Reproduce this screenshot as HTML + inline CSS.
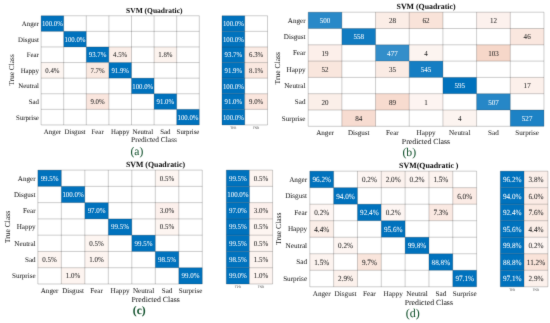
<!DOCTYPE html>
<html lang="en"><head><meta charset="utf-8"><title>SVM (Quadratic) confusion matrices</title>
<style>
html,body{margin:0;padding:0;background:#fff;}
body{width:550px;height:323px;overflow:hidden;}
svg{display:block;text-rendering:geometricPrecision;font-family:"Liberation Serif","DejaVu Serif",serif;}
</style></head><body>
<svg width="550" height="323" viewBox="0 0 550 323">
<filter id="soft" filterUnits="userSpaceOnUse" x="0" y="0" width="550" height="323" color-interpolation-filters="sRGB"><feConvolveMatrix order="3" kernelMatrix="0.01 0.07 0.01 0.07 0.68 0.07 0.01 0.07 0.01" edgeMode="duplicate" preserveAlpha="true"/></filter>
<g filter="url(#soft)">
<rect width="550" height="323" fill="#fff"/>
<rect x="41.10" y="15.75" width="158.20" height="109.20" fill="#fff"/>
<rect x="41.10" y="15.75" width="22.60" height="15.60" fill="#0072bd"/>
<text transform="translate(52.40 26.27) scale(1 1.09)" font-size="6.8" text-anchor="middle" fill="#fff" stroke="#fff" stroke-width="0.027">100.0%</text>
<rect x="63.70" y="31.35" width="22.60" height="15.60" fill="#0072bd"/>
<text transform="translate(75.00 41.87) scale(1 1.09)" font-size="6.8" text-anchor="middle" fill="#fff" stroke="#fff" stroke-width="0.027">100.0%</text>
<rect x="86.30" y="46.95" width="22.60" height="15.60" fill="#0072bd"/>
<text transform="translate(97.60 57.47) scale(1 1.09)" font-size="6.8" text-anchor="middle" fill="#fff" stroke="#fff" stroke-width="0.027">93.7%</text>
<rect x="108.90" y="46.95" width="22.60" height="15.60" fill="#fbeee8"/>
<text transform="translate(120.20 57.47) scale(1 1.09)" font-size="6.8" text-anchor="middle" fill="#202020" stroke="#202020" stroke-width="0.027">4.5%</text>
<rect x="154.10" y="46.95" width="22.60" height="15.60" fill="#fcf3ee"/>
<text transform="translate(165.40 57.47) scale(1 1.09)" font-size="6.8" text-anchor="middle" fill="#202020" stroke="#202020" stroke-width="0.027">1.8%</text>
<rect x="41.10" y="62.55" width="22.60" height="15.60" fill="#fdf5f1"/>
<text transform="translate(52.40 73.07) scale(1 1.09)" font-size="6.8" text-anchor="middle" fill="#202020" stroke="#202020" stroke-width="0.027">0.4%</text>
<rect x="86.30" y="62.55" width="22.60" height="15.60" fill="#fae9e1"/>
<text transform="translate(97.60 73.07) scale(1 1.09)" font-size="6.8" text-anchor="middle" fill="#202020" stroke="#202020" stroke-width="0.027">7.7%</text>
<rect x="108.90" y="62.55" width="22.60" height="15.60" fill="#0072bd"/>
<text transform="translate(120.20 73.07) scale(1 1.09)" font-size="6.8" text-anchor="middle" fill="#fff" stroke="#fff" stroke-width="0.027">91.9%</text>
<rect x="131.50" y="78.15" width="22.60" height="15.60" fill="#0072bd"/>
<text transform="translate(142.80 88.67) scale(1 1.09)" font-size="6.8" text-anchor="middle" fill="#fff" stroke="#fff" stroke-width="0.027">100.0%</text>
<rect x="86.30" y="93.75" width="22.60" height="15.60" fill="#fae6de"/>
<text transform="translate(97.60 104.27) scale(1 1.09)" font-size="6.8" text-anchor="middle" fill="#202020" stroke="#202020" stroke-width="0.027">9.0%</text>
<rect x="154.10" y="93.75" width="22.60" height="15.60" fill="#0072bd"/>
<text transform="translate(165.40 104.27) scale(1 1.09)" font-size="6.8" text-anchor="middle" fill="#fff" stroke="#fff" stroke-width="0.027">91.0%</text>
<rect x="176.70" y="109.35" width="22.60" height="15.60" fill="#0072bd"/>
<text transform="translate(188.00 119.87) scale(1 1.09)" font-size="6.8" text-anchor="middle" fill="#fff" stroke="#fff" stroke-width="0.027">100.0%</text>
<path d="M41.10 15.75V124.95M41.10 15.75H199.30M63.70 15.75V124.95M41.10 31.35H199.30M86.30 15.75V124.95M41.10 46.95H199.30M108.90 15.75V124.95M41.10 62.55H199.30M131.50 15.75V124.95M41.10 78.15H199.30M154.10 15.75V124.95M41.10 93.75H199.30M176.70 15.75V124.95M41.10 109.35H199.30M199.30 15.75V124.95M41.10 124.95H199.30" stroke="#000" stroke-opacity="0.36" stroke-width="0.55" fill="none"/>
<text x="38.90" y="25.91" font-size="6.85" text-anchor="end" fill="#202020" stroke="#202020" stroke-width="0.027">Anger</text>
<text x="52.40" y="133.60" font-size="6.85" text-anchor="middle" fill="#202020" stroke="#202020" stroke-width="0.027">Anger</text>
<text x="38.90" y="41.51" font-size="6.85" text-anchor="end" fill="#202020" stroke="#202020" stroke-width="0.027">Disgust</text>
<text x="75.00" y="133.60" font-size="6.85" text-anchor="middle" fill="#202020" stroke="#202020" stroke-width="0.027">Disgust</text>
<text x="38.90" y="57.11" font-size="6.85" text-anchor="end" fill="#202020" stroke="#202020" stroke-width="0.027">Fear</text>
<text x="97.60" y="133.60" font-size="6.85" text-anchor="middle" fill="#202020" stroke="#202020" stroke-width="0.027">Fear</text>
<text x="38.90" y="72.71" font-size="6.85" text-anchor="end" fill="#202020" stroke="#202020" stroke-width="0.027">Happy</text>
<text x="120.20" y="133.60" font-size="6.85" text-anchor="middle" fill="#202020" stroke="#202020" stroke-width="0.027">Happy</text>
<text x="38.90" y="88.31" font-size="6.85" text-anchor="end" fill="#202020" stroke="#202020" stroke-width="0.027">Neutral</text>
<text x="142.80" y="133.60" font-size="6.85" text-anchor="middle" fill="#202020" stroke="#202020" stroke-width="0.027">Neutral</text>
<text x="38.90" y="103.91" font-size="6.85" text-anchor="end" fill="#202020" stroke="#202020" stroke-width="0.027">Sad</text>
<text x="165.40" y="133.60" font-size="6.85" text-anchor="middle" fill="#202020" stroke="#202020" stroke-width="0.027">Sad</text>
<text x="38.90" y="119.51" font-size="6.85" text-anchor="end" fill="#202020" stroke="#202020" stroke-width="0.027">Surprise</text>
<text x="188.00" y="133.60" font-size="6.85" text-anchor="middle" fill="#202020" stroke="#202020" stroke-width="0.027">Surprise</text>
<text x="154.30" y="12.70" font-size="7.5" text-anchor="middle" fill="#111" stroke="#111" stroke-width="0.030" font-weight="bold">SVM (Quadratic)</text>
<text x="154.00" y="142.00" font-size="7.4" text-anchor="middle" fill="#202020" stroke="#202020" stroke-width="0.030">Predicted Class</text>
<text x="130.50" y="154.60" font-size="11.5" text-anchor="start" fill="#15532f" stroke="#15532f" stroke-width="0.046">(a)</text>
<text transform="translate(13.60 70.00) rotate(-90)" font-size="7.4" text-anchor="middle" fill="#202020" stroke="#202020" stroke-width="0.030">True Class</text>
<rect x="222.00" y="15.75" width="45.50" height="109.20" fill="#fff"/>
<rect x="222.00" y="15.75" width="22.75" height="15.60" fill="#0072bd"/>
<text transform="translate(233.38 26.27) scale(1 1.09)" font-size="6.8" text-anchor="middle" fill="#fff" stroke="#fff" stroke-width="0.027">100.0%</text>
<rect x="222.00" y="31.35" width="22.75" height="15.60" fill="#0072bd"/>
<text transform="translate(233.38 41.87) scale(1 1.09)" font-size="6.8" text-anchor="middle" fill="#fff" stroke="#fff" stroke-width="0.027">100.0%</text>
<rect x="222.00" y="46.95" width="22.75" height="15.60" fill="#0072bd"/>
<text transform="translate(233.38 57.47) scale(1 1.09)" font-size="6.8" text-anchor="middle" fill="#fff" stroke="#fff" stroke-width="0.027">93.7%</text>
<rect x="244.75" y="46.95" width="22.75" height="15.60" fill="#fbebe4"/>
<text transform="translate(256.12 57.47) scale(1 1.09)" font-size="6.8" text-anchor="middle" fill="#202020" stroke="#202020" stroke-width="0.027">6.3%</text>
<rect x="222.00" y="62.55" width="22.75" height="15.60" fill="#0072bd"/>
<text transform="translate(233.38 73.07) scale(1 1.09)" font-size="6.8" text-anchor="middle" fill="#fff" stroke="#fff" stroke-width="0.027">91.9%</text>
<rect x="244.75" y="62.55" width="22.75" height="15.60" fill="#fae8e0"/>
<text transform="translate(256.12 73.07) scale(1 1.09)" font-size="6.8" text-anchor="middle" fill="#202020" stroke="#202020" stroke-width="0.027">8.1%</text>
<rect x="222.00" y="78.15" width="22.75" height="15.60" fill="#0072bd"/>
<text transform="translate(233.38 88.67) scale(1 1.09)" font-size="6.8" text-anchor="middle" fill="#fff" stroke="#fff" stroke-width="0.027">100.0%</text>
<rect x="222.00" y="93.75" width="22.75" height="15.60" fill="#0072bd"/>
<text transform="translate(233.38 104.27) scale(1 1.09)" font-size="6.8" text-anchor="middle" fill="#fff" stroke="#fff" stroke-width="0.027">91.0%</text>
<rect x="244.75" y="93.75" width="22.75" height="15.60" fill="#fae6de"/>
<text transform="translate(256.12 104.27) scale(1 1.09)" font-size="6.8" text-anchor="middle" fill="#202020" stroke="#202020" stroke-width="0.027">9.0%</text>
<rect x="222.00" y="109.35" width="22.75" height="15.60" fill="#0072bd"/>
<text transform="translate(233.38 119.87) scale(1 1.09)" font-size="6.8" text-anchor="middle" fill="#fff" stroke="#fff" stroke-width="0.027">100.0%</text>
<path d="M222.00 15.75V124.95M244.75 15.75V124.95M267.50 15.75V124.95M222.00 15.75H267.50M222.00 31.35H267.50M222.00 46.95H267.50M222.00 62.55H267.50M222.00 78.15H267.50M222.00 93.75H267.50M222.00 109.35H267.50M222.00 124.95H267.50" stroke="#000" stroke-opacity="0.36" stroke-width="0.55" fill="none"/>
<text x="233.38" y="129.15" font-size="3.3" text-anchor="middle" fill="#444" stroke="#444" stroke-width="0.013">TPR</text>
<text x="256.12" y="129.15" font-size="3.3" text-anchor="middle" fill="#444" stroke="#444" stroke-width="0.013">FNR</text>
<rect x="308.20" y="12.20" width="235.76" height="114.10" fill="#fff"/>
<rect x="308.20" y="12.20" width="33.68" height="16.30" fill="#2989c8"/>
<text transform="translate(325.04 23.17) scale(1 1.09)" font-size="7.05" text-anchor="middle" fill="#fff" stroke="#fff" stroke-width="0.028">500</text>
<rect x="375.56" y="12.20" width="33.68" height="16.30" fill="#fbede6"/>
<text transform="translate(392.40 23.17) scale(1 1.09)" font-size="7.05" text-anchor="middle" fill="#202020" stroke="#202020" stroke-width="0.028">28</text>
<rect x="409.24" y="12.20" width="33.68" height="16.30" fill="#f9e3d9"/>
<text transform="translate(426.08 23.17) scale(1 1.09)" font-size="7.05" text-anchor="middle" fill="#202020" stroke="#202020" stroke-width="0.028">62</text>
<rect x="476.60" y="12.20" width="33.68" height="16.30" fill="#fcf1ed"/>
<text transform="translate(493.44 23.17) scale(1 1.09)" font-size="7.05" text-anchor="middle" fill="#202020" stroke="#202020" stroke-width="0.028">12</text>
<rect x="341.88" y="28.50" width="33.68" height="16.30" fill="#107bc1"/>
<text transform="translate(358.72 39.47) scale(1 1.09)" font-size="7.05" text-anchor="middle" fill="#fff" stroke="#fff" stroke-width="0.028">558</text>
<rect x="510.28" y="28.50" width="33.68" height="16.30" fill="#fae7df"/>
<text transform="translate(527.12 39.47) scale(1 1.09)" font-size="7.05" text-anchor="middle" fill="#202020" stroke="#202020" stroke-width="0.028">46</text>
<rect x="308.20" y="44.80" width="33.68" height="16.30" fill="#fcefea"/>
<text transform="translate(325.04 55.77) scale(1 1.09)" font-size="7.05" text-anchor="middle" fill="#202020" stroke="#202020" stroke-width="0.028">19</text>
<rect x="375.56" y="44.80" width="33.68" height="16.30" fill="#338eca"/>
<text transform="translate(392.40 55.77) scale(1 1.09)" font-size="7.05" text-anchor="middle" fill="#fff" stroke="#fff" stroke-width="0.028">477</text>
<rect x="409.24" y="44.80" width="33.68" height="16.30" fill="#fcf4f0"/>
<text transform="translate(426.08 55.77) scale(1 1.09)" font-size="7.05" text-anchor="middle" fill="#202020" stroke="#202020" stroke-width="0.028">4</text>
<rect x="476.60" y="44.80" width="33.68" height="16.30" fill="#f6d7c9"/>
<text transform="translate(493.44 55.77) scale(1 1.09)" font-size="7.05" text-anchor="middle" fill="#202020" stroke="#202020" stroke-width="0.028">103</text>
<rect x="308.20" y="61.10" width="33.68" height="16.30" fill="#f9e6dd"/>
<text transform="translate(325.04 72.07) scale(1 1.09)" font-size="7.05" text-anchor="middle" fill="#202020" stroke="#202020" stroke-width="0.028">52</text>
<rect x="375.56" y="61.10" width="33.68" height="16.30" fill="#faebe4"/>
<text transform="translate(392.40 72.07) scale(1 1.09)" font-size="7.05" text-anchor="middle" fill="#202020" stroke="#202020" stroke-width="0.028">35</text>
<rect x="409.24" y="61.10" width="33.68" height="16.30" fill="#157ec3"/>
<text transform="translate(426.08 72.07) scale(1 1.09)" font-size="7.05" text-anchor="middle" fill="#fff" stroke="#fff" stroke-width="0.028">545</text>
<rect x="442.92" y="77.40" width="33.68" height="16.30" fill="#0072bd"/>
<text transform="translate(459.76 88.37) scale(1 1.09)" font-size="7.05" text-anchor="middle" fill="#fff" stroke="#fff" stroke-width="0.028">595</text>
<rect x="510.28" y="77.40" width="33.68" height="16.30" fill="#fcf0eb"/>
<text transform="translate(527.12 88.37) scale(1 1.09)" font-size="7.05" text-anchor="middle" fill="#202020" stroke="#202020" stroke-width="0.028">17</text>
<rect x="308.20" y="93.70" width="33.68" height="16.30" fill="#fbefe9"/>
<text transform="translate(325.04 104.67) scale(1 1.09)" font-size="7.05" text-anchor="middle" fill="#202020" stroke="#202020" stroke-width="0.028">20</text>
<rect x="375.56" y="93.70" width="33.68" height="16.30" fill="#f7dbcf"/>
<text transform="translate(392.40 104.67) scale(1 1.09)" font-size="7.05" text-anchor="middle" fill="#202020" stroke="#202020" stroke-width="0.028">89</text>
<rect x="409.24" y="93.70" width="33.68" height="16.30" fill="#fdf4f1"/>
<text transform="translate(426.08 104.67) scale(1 1.09)" font-size="7.05" text-anchor="middle" fill="#202020" stroke="#202020" stroke-width="0.028">1</text>
<rect x="476.60" y="93.70" width="33.68" height="16.30" fill="#2687c7"/>
<text transform="translate(493.44 104.67) scale(1 1.09)" font-size="7.05" text-anchor="middle" fill="#fff" stroke="#fff" stroke-width="0.028">507</text>
<rect x="341.88" y="110.00" width="33.68" height="16.30" fill="#f7dcd1"/>
<text transform="translate(358.72 120.97) scale(1 1.09)" font-size="7.05" text-anchor="middle" fill="#202020" stroke="#202020" stroke-width="0.028">84</text>
<rect x="442.92" y="110.00" width="33.68" height="16.30" fill="#fcf4f0"/>
<text transform="translate(459.76 120.97) scale(1 1.09)" font-size="7.05" text-anchor="middle" fill="#202020" stroke="#202020" stroke-width="0.028">4</text>
<rect x="510.28" y="110.00" width="33.68" height="16.30" fill="#1d82c5"/>
<text transform="translate(527.12 120.97) scale(1 1.09)" font-size="7.05" text-anchor="middle" fill="#fff" stroke="#fff" stroke-width="0.028">527</text>
<path d="M308.20 12.20V126.30M308.20 12.20H543.96M341.88 12.20V126.30M308.20 28.50H543.96M375.56 12.20V126.30M308.20 44.80H543.96M409.24 12.20V126.30M308.20 61.10H543.96M442.92 12.20V126.30M308.20 77.40H543.96M476.60 12.20V126.30M308.20 93.70H543.96M510.28 12.20V126.30M308.20 110.00H543.96M543.96 12.20V126.30M308.20 126.30H543.96" stroke="#000" stroke-opacity="0.36" stroke-width="0.55" fill="none"/>
<text x="305.50" y="22.80" font-size="7.1" text-anchor="end" fill="#202020" stroke="#202020" stroke-width="0.028">Anger</text>
<text x="325.04" y="135.10" font-size="7.1" text-anchor="middle" fill="#202020" stroke="#202020" stroke-width="0.028">Anger</text>
<text x="305.50" y="39.10" font-size="7.1" text-anchor="end" fill="#202020" stroke="#202020" stroke-width="0.028">Disgust</text>
<text x="358.72" y="135.10" font-size="7.1" text-anchor="middle" fill="#202020" stroke="#202020" stroke-width="0.028">Disgust</text>
<text x="305.50" y="55.40" font-size="7.1" text-anchor="end" fill="#202020" stroke="#202020" stroke-width="0.028">Fear</text>
<text x="392.40" y="135.10" font-size="7.1" text-anchor="middle" fill="#202020" stroke="#202020" stroke-width="0.028">Fear</text>
<text x="305.50" y="71.70" font-size="7.1" text-anchor="end" fill="#202020" stroke="#202020" stroke-width="0.028">Happy</text>
<text x="426.08" y="135.10" font-size="7.1" text-anchor="middle" fill="#202020" stroke="#202020" stroke-width="0.028">Happy</text>
<text x="305.50" y="88.00" font-size="7.1" text-anchor="end" fill="#202020" stroke="#202020" stroke-width="0.028">Neutral</text>
<text x="459.76" y="135.10" font-size="7.1" text-anchor="middle" fill="#202020" stroke="#202020" stroke-width="0.028">Neutral</text>
<text x="305.50" y="104.30" font-size="7.1" text-anchor="end" fill="#202020" stroke="#202020" stroke-width="0.028">Sad</text>
<text x="493.44" y="135.10" font-size="7.1" text-anchor="middle" fill="#202020" stroke="#202020" stroke-width="0.028">Sad</text>
<text x="305.50" y="120.60" font-size="7.1" text-anchor="end" fill="#202020" stroke="#202020" stroke-width="0.028">Surprise</text>
<text x="527.12" y="135.10" font-size="7.1" text-anchor="middle" fill="#202020" stroke="#202020" stroke-width="0.028">Surprise</text>
<text x="426.10" y="8.70" font-size="7.85" text-anchor="middle" fill="#111" stroke="#111" stroke-width="0.031" font-weight="bold">SVM (Quadratic)</text>
<text x="426.00" y="143.80" font-size="7.8" text-anchor="middle" fill="#202020" stroke="#202020" stroke-width="0.031">Predicted Class</text>
<text x="402.40" y="156.20" font-size="11.75" text-anchor="start" fill="#15532f" stroke="#15532f" stroke-width="0.047">(b)</text>
<text transform="translate(280.00 68.20) rotate(-90)" font-size="7.6" text-anchor="middle" fill="#202020" stroke="#202020" stroke-width="0.030">True Class</text>
<rect x="37.85" y="170.10" width="164.43" height="113.89" fill="#fff"/>
<rect x="37.85" y="170.10" width="23.49" height="16.27" fill="#0072bd"/>
<text transform="translate(49.59 180.56) scale(1 1.09)" font-size="6.95" text-anchor="middle" fill="#fff" stroke="#fff" stroke-width="0.028">99.5%</text>
<rect x="155.30" y="170.10" width="23.49" height="16.27" fill="#fdf5f1"/>
<text transform="translate(167.04 180.56) scale(1 1.09)" font-size="6.95" text-anchor="middle" fill="#202020" stroke="#202020" stroke-width="0.028">0.5%</text>
<rect x="61.34" y="186.37" width="23.49" height="16.27" fill="#0072bd"/>
<text transform="translate(73.09 196.84) scale(1 1.09)" font-size="6.95" text-anchor="middle" fill="#fff" stroke="#fff" stroke-width="0.028">100.0%</text>
<rect x="84.83" y="202.64" width="23.49" height="16.27" fill="#0072bd"/>
<text transform="translate(96.58 213.10) scale(1 1.09)" font-size="6.95" text-anchor="middle" fill="#fff" stroke="#fff" stroke-width="0.028">97.0%</text>
<rect x="155.30" y="202.64" width="23.49" height="16.27" fill="#fcf0ec"/>
<text transform="translate(167.04 213.10) scale(1 1.09)" font-size="6.95" text-anchor="middle" fill="#202020" stroke="#202020" stroke-width="0.028">3.0%</text>
<rect x="108.32" y="218.91" width="23.49" height="16.27" fill="#0072bd"/>
<text transform="translate(120.06 229.38) scale(1 1.09)" font-size="6.95" text-anchor="middle" fill="#fff" stroke="#fff" stroke-width="0.028">99.5%</text>
<rect x="155.30" y="218.91" width="23.49" height="16.27" fill="#fdf5f1"/>
<text transform="translate(167.04 229.38) scale(1 1.09)" font-size="6.95" text-anchor="middle" fill="#202020" stroke="#202020" stroke-width="0.028">0.5%</text>
<rect x="84.83" y="235.18" width="23.49" height="16.27" fill="#fdf5f1"/>
<text transform="translate(96.58 245.65) scale(1 1.09)" font-size="6.95" text-anchor="middle" fill="#202020" stroke="#202020" stroke-width="0.028">0.5%</text>
<rect x="131.81" y="235.18" width="23.49" height="16.27" fill="#0072bd"/>
<text transform="translate(143.56 245.65) scale(1 1.09)" font-size="6.95" text-anchor="middle" fill="#fff" stroke="#fff" stroke-width="0.028">99.5%</text>
<rect x="37.85" y="251.45" width="23.49" height="16.27" fill="#fdf5f1"/>
<text transform="translate(49.59 261.91) scale(1 1.09)" font-size="6.95" text-anchor="middle" fill="#202020" stroke="#202020" stroke-width="0.028">0.5%</text>
<rect x="84.83" y="251.45" width="23.49" height="16.27" fill="#fdf4f0"/>
<text transform="translate(96.58 261.91) scale(1 1.09)" font-size="6.95" text-anchor="middle" fill="#202020" stroke="#202020" stroke-width="0.028">1.0%</text>
<rect x="155.30" y="251.45" width="23.49" height="16.27" fill="#0072bd"/>
<text transform="translate(167.04 261.91) scale(1 1.09)" font-size="6.95" text-anchor="middle" fill="#fff" stroke="#fff" stroke-width="0.028">98.5%</text>
<rect x="61.34" y="267.72" width="23.49" height="16.27" fill="#fdf4f0"/>
<text transform="translate(73.09 278.19) scale(1 1.09)" font-size="6.95" text-anchor="middle" fill="#202020" stroke="#202020" stroke-width="0.028">1.0%</text>
<rect x="178.79" y="267.72" width="23.49" height="16.27" fill="#0072bd"/>
<text transform="translate(190.53 278.19) scale(1 1.09)" font-size="6.95" text-anchor="middle" fill="#fff" stroke="#fff" stroke-width="0.028">99.0%</text>
<path d="M37.85 170.10V283.99M37.85 170.10H202.28M61.34 170.10V283.99M37.85 186.37H202.28M84.83 170.10V283.99M37.85 202.64H202.28M108.32 170.10V283.99M37.85 218.91H202.28M131.81 170.10V283.99M37.85 235.18H202.28M155.30 170.10V283.99M37.85 251.45H202.28M178.79 170.10V283.99M37.85 267.72H202.28M202.28 170.10V283.99M37.85 283.99H202.28" stroke="#000" stroke-opacity="0.36" stroke-width="0.55" fill="none"/>
<text x="35.60" y="180.68" font-size="7.1" text-anchor="end" fill="#202020" stroke="#202020" stroke-width="0.028">Anger</text>
<text x="49.59" y="292.70" font-size="7.1" text-anchor="middle" fill="#202020" stroke="#202020" stroke-width="0.028">Anger</text>
<text x="35.60" y="196.95" font-size="7.1" text-anchor="end" fill="#202020" stroke="#202020" stroke-width="0.028">Disgust</text>
<text x="73.09" y="292.70" font-size="7.1" text-anchor="middle" fill="#202020" stroke="#202020" stroke-width="0.028">Disgust</text>
<text x="35.60" y="213.22" font-size="7.1" text-anchor="end" fill="#202020" stroke="#202020" stroke-width="0.028">Fear</text>
<text x="96.58" y="292.70" font-size="7.1" text-anchor="middle" fill="#202020" stroke="#202020" stroke-width="0.028">Fear</text>
<text x="35.60" y="229.49" font-size="7.1" text-anchor="end" fill="#202020" stroke="#202020" stroke-width="0.028">Happy</text>
<text x="120.06" y="292.70" font-size="7.1" text-anchor="middle" fill="#202020" stroke="#202020" stroke-width="0.028">Happy</text>
<text x="35.60" y="245.76" font-size="7.1" text-anchor="end" fill="#202020" stroke="#202020" stroke-width="0.028">Neutral</text>
<text x="143.56" y="292.70" font-size="7.1" text-anchor="middle" fill="#202020" stroke="#202020" stroke-width="0.028">Neutral</text>
<text x="35.60" y="262.03" font-size="7.1" text-anchor="end" fill="#202020" stroke="#202020" stroke-width="0.028">Sad</text>
<text x="167.04" y="292.70" font-size="7.1" text-anchor="middle" fill="#202020" stroke="#202020" stroke-width="0.028">Sad</text>
<text x="35.60" y="278.30" font-size="7.1" text-anchor="end" fill="#202020" stroke="#202020" stroke-width="0.028">Surprise</text>
<text x="190.53" y="292.70" font-size="7.1" text-anchor="middle" fill="#202020" stroke="#202020" stroke-width="0.028">Surprise</text>
<text x="155.50" y="167.00" font-size="7.85" text-anchor="middle" fill="#111" stroke="#111" stroke-width="0.031" font-weight="bold">SVM (Quadratic)</text>
<text x="155.60" y="301.50" font-size="7.8" text-anchor="middle" fill="#202020" stroke="#202020" stroke-width="0.031">Predicted Class</text>
<text x="132.80" y="314.20" font-size="11.6" text-anchor="start" fill="#15532f" stroke="#15532f" stroke-width="0.046" font-weight="bold">(c)</text>
<text transform="translate(9.90 227.00) rotate(-90)" font-size="7.6" text-anchor="middle" fill="#202020" stroke="#202020" stroke-width="0.030">True Class</text>
<rect x="226.30" y="170.10" width="46.30" height="113.89" fill="#fff"/>
<rect x="226.30" y="170.10" width="23.15" height="16.27" fill="#0072bd"/>
<text transform="translate(237.88 180.56) scale(1 1.09)" font-size="6.95" text-anchor="middle" fill="#fff" stroke="#fff" stroke-width="0.028">99.5%</text>
<rect x="249.45" y="170.10" width="23.15" height="16.27" fill="#fdf5f1"/>
<text transform="translate(261.02 180.56) scale(1 1.09)" font-size="6.95" text-anchor="middle" fill="#202020" stroke="#202020" stroke-width="0.028">0.5%</text>
<rect x="226.30" y="186.37" width="23.15" height="16.27" fill="#0072bd"/>
<text transform="translate(237.88 196.84) scale(1 1.09)" font-size="6.95" text-anchor="middle" fill="#fff" stroke="#fff" stroke-width="0.028">100.0%</text>
<rect x="226.30" y="202.64" width="23.15" height="16.27" fill="#0072bd"/>
<text transform="translate(237.88 213.10) scale(1 1.09)" font-size="6.95" text-anchor="middle" fill="#fff" stroke="#fff" stroke-width="0.028">97.0%</text>
<rect x="249.45" y="202.64" width="23.15" height="16.27" fill="#fcf0ec"/>
<text transform="translate(261.02 213.10) scale(1 1.09)" font-size="6.95" text-anchor="middle" fill="#202020" stroke="#202020" stroke-width="0.028">3.0%</text>
<rect x="226.30" y="218.91" width="23.15" height="16.27" fill="#0072bd"/>
<text transform="translate(237.88 229.38) scale(1 1.09)" font-size="6.95" text-anchor="middle" fill="#fff" stroke="#fff" stroke-width="0.028">99.5%</text>
<rect x="249.45" y="218.91" width="23.15" height="16.27" fill="#fdf5f1"/>
<text transform="translate(261.02 229.38) scale(1 1.09)" font-size="6.95" text-anchor="middle" fill="#202020" stroke="#202020" stroke-width="0.028">0.5%</text>
<rect x="226.30" y="235.18" width="23.15" height="16.27" fill="#0072bd"/>
<text transform="translate(237.88 245.65) scale(1 1.09)" font-size="6.95" text-anchor="middle" fill="#fff" stroke="#fff" stroke-width="0.028">99.5%</text>
<rect x="249.45" y="235.18" width="23.15" height="16.27" fill="#fdf5f1"/>
<text transform="translate(261.02 245.65) scale(1 1.09)" font-size="6.95" text-anchor="middle" fill="#202020" stroke="#202020" stroke-width="0.028">0.5%</text>
<rect x="226.30" y="251.45" width="23.15" height="16.27" fill="#0072bd"/>
<text transform="translate(237.88 261.91) scale(1 1.09)" font-size="6.95" text-anchor="middle" fill="#fff" stroke="#fff" stroke-width="0.028">98.5%</text>
<rect x="249.45" y="251.45" width="23.15" height="16.27" fill="#fcf3ef"/>
<text transform="translate(261.02 261.91) scale(1 1.09)" font-size="6.95" text-anchor="middle" fill="#202020" stroke="#202020" stroke-width="0.028">1.5%</text>
<rect x="226.30" y="267.72" width="23.15" height="16.27" fill="#0072bd"/>
<text transform="translate(237.88 278.19) scale(1 1.09)" font-size="6.95" text-anchor="middle" fill="#fff" stroke="#fff" stroke-width="0.028">99.0%</text>
<rect x="249.45" y="267.72" width="23.15" height="16.27" fill="#fdf4f0"/>
<text transform="translate(261.02 278.19) scale(1 1.09)" font-size="6.95" text-anchor="middle" fill="#202020" stroke="#202020" stroke-width="0.028">1.0%</text>
<path d="M226.30 170.10V283.99M249.45 170.10V283.99M272.60 170.10V283.99M226.30 170.10H272.60M226.30 186.37H272.60M226.30 202.64H272.60M226.30 218.91H272.60M226.30 235.18H272.60M226.30 251.45H272.60M226.30 267.72H272.60M226.30 283.99H272.60" stroke="#000" stroke-opacity="0.36" stroke-width="0.55" fill="none"/>
<text x="237.88" y="288.19" font-size="3.3" text-anchor="middle" fill="#444" stroke="#444" stroke-width="0.013">TPR</text>
<text x="261.02" y="288.19" font-size="3.3" text-anchor="middle" fill="#444" stroke="#444" stroke-width="0.013">FNR</text>
<rect x="309.80" y="171.15" width="166.81" height="115.64" fill="#fff"/>
<rect x="309.80" y="171.15" width="23.83" height="16.52" fill="#0072bd"/>
<text transform="translate(321.72 182.29) scale(1 1.09)" font-size="7.2" text-anchor="middle" fill="#fff" stroke="#fff" stroke-width="0.029">96.2%</text>
<rect x="357.46" y="171.15" width="23.83" height="16.52" fill="#fdf5f2"/>
<text transform="translate(369.38 182.29) scale(1 1.09)" font-size="7.2" text-anchor="middle" fill="#202020" stroke="#202020" stroke-width="0.029">0.2%</text>
<rect x="381.29" y="171.15" width="23.83" height="16.52" fill="#fcf2ee"/>
<text transform="translate(393.21 182.29) scale(1 1.09)" font-size="7.2" text-anchor="middle" fill="#202020" stroke="#202020" stroke-width="0.029">2.0%</text>
<rect x="405.12" y="171.15" width="23.83" height="16.52" fill="#fdf5f2"/>
<text transform="translate(417.04 182.29) scale(1 1.09)" font-size="7.2" text-anchor="middle" fill="#202020" stroke="#202020" stroke-width="0.029">0.2%</text>
<rect x="428.95" y="171.15" width="23.83" height="16.52" fill="#fcf3ef"/>
<text transform="translate(440.87 182.29) scale(1 1.09)" font-size="7.2" text-anchor="middle" fill="#202020" stroke="#202020" stroke-width="0.029">1.5%</text>
<rect x="333.63" y="187.67" width="23.83" height="16.52" fill="#0072bd"/>
<text transform="translate(345.55 198.81) scale(1 1.09)" font-size="7.2" text-anchor="middle" fill="#fff" stroke="#fff" stroke-width="0.029">94.0%</text>
<rect x="452.78" y="187.67" width="23.83" height="16.52" fill="#fbebe5"/>
<text transform="translate(464.69 198.81) scale(1 1.09)" font-size="7.2" text-anchor="middle" fill="#202020" stroke="#202020" stroke-width="0.029">6.0%</text>
<rect x="309.80" y="204.19" width="23.83" height="16.52" fill="#fdf5f2"/>
<text transform="translate(321.72 215.33) scale(1 1.09)" font-size="7.2" text-anchor="middle" fill="#202020" stroke="#202020" stroke-width="0.029">0.2%</text>
<rect x="357.46" y="204.19" width="23.83" height="16.52" fill="#0072bd"/>
<text transform="translate(369.38 215.33) scale(1 1.09)" font-size="7.2" text-anchor="middle" fill="#fff" stroke="#fff" stroke-width="0.029">92.4%</text>
<rect x="381.29" y="204.19" width="23.83" height="16.52" fill="#fdf5f2"/>
<text transform="translate(393.21 215.33) scale(1 1.09)" font-size="7.2" text-anchor="middle" fill="#202020" stroke="#202020" stroke-width="0.029">0.2%</text>
<rect x="428.95" y="204.19" width="23.83" height="16.52" fill="#fae9e2"/>
<text transform="translate(440.87 215.33) scale(1 1.09)" font-size="7.2" text-anchor="middle" fill="#202020" stroke="#202020" stroke-width="0.029">7.3%</text>
<rect x="309.80" y="220.71" width="23.83" height="16.52" fill="#fbeee8"/>
<text transform="translate(321.72 231.85) scale(1 1.09)" font-size="7.2" text-anchor="middle" fill="#202020" stroke="#202020" stroke-width="0.029">4.4%</text>
<rect x="381.29" y="220.71" width="23.83" height="16.52" fill="#0072bd"/>
<text transform="translate(393.21 231.85) scale(1 1.09)" font-size="7.2" text-anchor="middle" fill="#fff" stroke="#fff" stroke-width="0.029">95.6%</text>
<rect x="333.63" y="237.23" width="23.83" height="16.52" fill="#fdf5f2"/>
<text transform="translate(345.55 248.37) scale(1 1.09)" font-size="7.2" text-anchor="middle" fill="#202020" stroke="#202020" stroke-width="0.029">0.2%</text>
<rect x="405.12" y="237.23" width="23.83" height="16.52" fill="#0072bd"/>
<text transform="translate(417.04 248.37) scale(1 1.09)" font-size="7.2" text-anchor="middle" fill="#fff" stroke="#fff" stroke-width="0.029">99.8%</text>
<rect x="309.80" y="253.75" width="23.83" height="16.52" fill="#fcf3ef"/>
<text transform="translate(321.72 264.89) scale(1 1.09)" font-size="7.2" text-anchor="middle" fill="#202020" stroke="#202020" stroke-width="0.029">1.5%</text>
<rect x="357.46" y="253.75" width="23.83" height="16.52" fill="#f9e5dc"/>
<text transform="translate(369.38 264.89) scale(1 1.09)" font-size="7.2" text-anchor="middle" fill="#202020" stroke="#202020" stroke-width="0.029">9.7%</text>
<rect x="428.95" y="253.75" width="23.83" height="16.52" fill="#0072bd"/>
<text transform="translate(440.87 264.89) scale(1 1.09)" font-size="7.2" text-anchor="middle" fill="#fff" stroke="#fff" stroke-width="0.029">88.8%</text>
<rect x="333.63" y="270.27" width="23.83" height="16.52" fill="#fcf1ec"/>
<text transform="translate(345.55 281.41) scale(1 1.09)" font-size="7.2" text-anchor="middle" fill="#202020" stroke="#202020" stroke-width="0.029">2.9%</text>
<rect x="452.78" y="270.27" width="23.83" height="16.52" fill="#0072bd"/>
<text transform="translate(464.69 281.41) scale(1 1.09)" font-size="7.2" text-anchor="middle" fill="#fff" stroke="#fff" stroke-width="0.029">97.1%</text>
<path d="M309.80 171.15V286.79M309.80 171.15H476.61M333.63 171.15V286.79M309.80 187.67H476.61M357.46 171.15V286.79M309.80 204.19H476.61M381.29 171.15V286.79M309.80 220.71H476.61M405.12 171.15V286.79M309.80 237.23H476.61M428.95 171.15V286.79M309.80 253.75H476.61M452.78 171.15V286.79M309.80 270.27H476.61M476.61 171.15V286.79M309.80 286.79H476.61" stroke="#000" stroke-opacity="0.36" stroke-width="0.55" fill="none"/>
<text x="307.10" y="181.89" font-size="7.2" text-anchor="end" fill="#202020" stroke="#202020" stroke-width="0.029">Anger</text>
<text x="321.72" y="295.70" font-size="7.2" text-anchor="middle" fill="#202020" stroke="#202020" stroke-width="0.029">Anger</text>
<text x="307.10" y="198.41" font-size="7.2" text-anchor="end" fill="#202020" stroke="#202020" stroke-width="0.029">Disgust</text>
<text x="345.55" y="295.70" font-size="7.2" text-anchor="middle" fill="#202020" stroke="#202020" stroke-width="0.029">Disgust</text>
<text x="307.10" y="214.93" font-size="7.2" text-anchor="end" fill="#202020" stroke="#202020" stroke-width="0.029">Fear</text>
<text x="369.38" y="295.70" font-size="7.2" text-anchor="middle" fill="#202020" stroke="#202020" stroke-width="0.029">Fear</text>
<text x="307.10" y="231.45" font-size="7.2" text-anchor="end" fill="#202020" stroke="#202020" stroke-width="0.029">Happy</text>
<text x="393.21" y="295.70" font-size="7.2" text-anchor="middle" fill="#202020" stroke="#202020" stroke-width="0.029">Happy</text>
<text x="307.10" y="247.97" font-size="7.2" text-anchor="end" fill="#202020" stroke="#202020" stroke-width="0.029">Neutral</text>
<text x="417.04" y="295.70" font-size="7.2" text-anchor="middle" fill="#202020" stroke="#202020" stroke-width="0.029">Neutral</text>
<text x="307.10" y="264.49" font-size="7.2" text-anchor="end" fill="#202020" stroke="#202020" stroke-width="0.029">Sad</text>
<text x="440.87" y="295.70" font-size="7.2" text-anchor="middle" fill="#202020" stroke="#202020" stroke-width="0.029">Sad</text>
<text x="307.10" y="281.01" font-size="7.2" text-anchor="end" fill="#202020" stroke="#202020" stroke-width="0.029">Surprise</text>
<text x="464.69" y="295.70" font-size="7.2" text-anchor="middle" fill="#202020" stroke="#202020" stroke-width="0.029">Surprise</text>
<text x="428.80" y="168.20" font-size="7.9" text-anchor="middle" fill="#111" stroke="#111" stroke-width="0.032" font-weight="bold">SVM(Quadratic )</text>
<text x="428.80" y="304.60" font-size="7.8" text-anchor="middle" fill="#202020" stroke="#202020" stroke-width="0.031">Predicted Class</text>
<text x="405.70" y="317.30" font-size="12.0" text-anchor="start" fill="#15532f" stroke="#15532f" stroke-width="0.048">(d)</text>
<text transform="translate(281.00 228.70) rotate(-90)" font-size="7.6" text-anchor="middle" fill="#202020" stroke="#202020" stroke-width="0.030">True Class</text>
<rect x="500.30" y="171.15" width="47.60" height="115.64" fill="#fff"/>
<rect x="500.30" y="171.15" width="23.80" height="16.52" fill="#0072bd"/>
<text transform="translate(512.20 182.29) scale(1 1.09)" font-size="7.2" text-anchor="middle" fill="#fff" stroke="#fff" stroke-width="0.029">96.2%</text>
<rect x="524.10" y="171.15" width="23.80" height="16.52" fill="#fbefea"/>
<text transform="translate(536.00 182.29) scale(1 1.09)" font-size="7.2" text-anchor="middle" fill="#202020" stroke="#202020" stroke-width="0.029">3.8%</text>
<rect x="500.30" y="187.67" width="23.80" height="16.52" fill="#0072bd"/>
<text transform="translate(512.20 198.81) scale(1 1.09)" font-size="7.2" text-anchor="middle" fill="#fff" stroke="#fff" stroke-width="0.029">94.0%</text>
<rect x="524.10" y="187.67" width="23.80" height="16.52" fill="#fbebe5"/>
<text transform="translate(536.00 198.81) scale(1 1.09)" font-size="7.2" text-anchor="middle" fill="#202020" stroke="#202020" stroke-width="0.029">6.0%</text>
<rect x="500.30" y="204.19" width="23.80" height="16.52" fill="#0072bd"/>
<text transform="translate(512.20 215.33) scale(1 1.09)" font-size="7.2" text-anchor="middle" fill="#fff" stroke="#fff" stroke-width="0.029">92.4%</text>
<rect x="524.10" y="204.19" width="23.80" height="16.52" fill="#fae9e1"/>
<text transform="translate(536.00 215.33) scale(1 1.09)" font-size="7.2" text-anchor="middle" fill="#202020" stroke="#202020" stroke-width="0.029">7.6%</text>
<rect x="500.30" y="220.71" width="23.80" height="16.52" fill="#0072bd"/>
<text transform="translate(512.20 231.85) scale(1 1.09)" font-size="7.2" text-anchor="middle" fill="#fff" stroke="#fff" stroke-width="0.029">95.6%</text>
<rect x="524.10" y="220.71" width="23.80" height="16.52" fill="#fbeee8"/>
<text transform="translate(536.00 231.85) scale(1 1.09)" font-size="7.2" text-anchor="middle" fill="#202020" stroke="#202020" stroke-width="0.029">4.4%</text>
<rect x="500.30" y="237.23" width="23.80" height="16.52" fill="#0072bd"/>
<text transform="translate(512.20 248.37) scale(1 1.09)" font-size="7.2" text-anchor="middle" fill="#fff" stroke="#fff" stroke-width="0.029">99.8%</text>
<rect x="524.10" y="237.23" width="23.80" height="16.52" fill="#fdf5f2"/>
<text transform="translate(536.00 248.37) scale(1 1.09)" font-size="7.2" text-anchor="middle" fill="#202020" stroke="#202020" stroke-width="0.029">0.2%</text>
<rect x="500.30" y="253.75" width="23.80" height="16.52" fill="#0072bd"/>
<text transform="translate(512.20 264.89) scale(1 1.09)" font-size="7.2" text-anchor="middle" fill="#fff" stroke="#fff" stroke-width="0.029">88.8%</text>
<rect x="524.10" y="253.75" width="23.80" height="16.52" fill="#f9e3d9"/>
<text transform="translate(536.00 264.89) scale(1 1.09)" font-size="7.2" text-anchor="middle" fill="#202020" stroke="#202020" stroke-width="0.029">11.2%</text>
<rect x="500.30" y="270.27" width="23.80" height="16.52" fill="#0072bd"/>
<text transform="translate(512.20 281.41) scale(1 1.09)" font-size="7.2" text-anchor="middle" fill="#fff" stroke="#fff" stroke-width="0.029">97.1%</text>
<rect x="524.10" y="270.27" width="23.80" height="16.52" fill="#fcf1ec"/>
<text transform="translate(536.00 281.41) scale(1 1.09)" font-size="7.2" text-anchor="middle" fill="#202020" stroke="#202020" stroke-width="0.029">2.9%</text>
<path d="M500.30 171.15V286.79M524.10 171.15V286.79M547.90 171.15V286.79M500.30 171.15H547.90M500.30 187.67H547.90M500.30 204.19H547.90M500.30 220.71H547.90M500.30 237.23H547.90M500.30 253.75H547.90M500.30 270.27H547.90M500.30 286.79H547.90" stroke="#000" stroke-opacity="0.36" stroke-width="0.55" fill="none"/>
<text x="512.20" y="290.99" font-size="3.3" text-anchor="middle" fill="#444" stroke="#444" stroke-width="0.013">TPR</text>
<text x="536.00" y="290.99" font-size="3.3" text-anchor="middle" fill="#444" stroke="#444" stroke-width="0.013">FNR</text>
</g>
</svg>
</body></html>
